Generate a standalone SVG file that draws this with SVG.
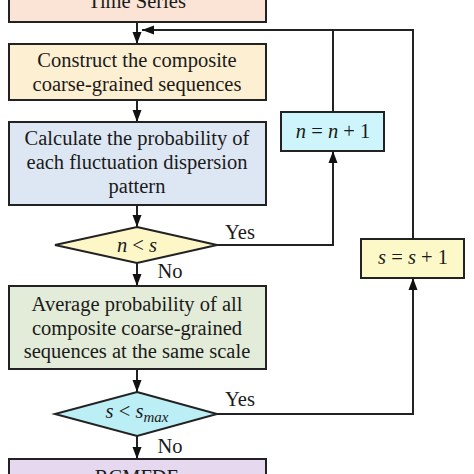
<svg xmlns="http://www.w3.org/2000/svg" width="474" height="474" viewBox="0 0 474 474">
<style>
.box{stroke:#222;stroke-width:2}
.t{font-family:"Liberation Serif","Times New Roman",serif;font-size:20.5px;fill:#1a1a1a;text-anchor:middle}
.m{font-style:italic}
.c{fill:none;stroke:#222;stroke-width:2}
</style>
<defs>
<marker id="ah" viewBox="0 0 12 10" refX="12" refY="5" markerWidth="12" markerHeight="10" markerUnits="userSpaceOnUse" orient="auto">
<path d="M0,0.5 L12,5 L0,9.5 z" fill="#111"/>
</marker>
</defs>
<rect width="474" height="474" fill="#fff"/>
<g id="connectors">
<line class="c" x1="137" y1="22" x2="137" y2="44" marker-end="url(#ah)"/>
<polyline class="c" points="413,239 413,30 142,30" marker-end="url(#ah)"/>
<line class="c" x1="333" y1="112" x2="333" y2="30"/>
<line class="c" x1="137" y1="100" x2="137" y2="122" marker-end="url(#ah)"/>
<line class="c" x1="137" y1="205" x2="137" y2="227" marker-end="url(#ah)"/>
<polyline class="c" points="217,245 333,245 333,151" marker-end="url(#ah)"/>
<line class="c" x1="137" y1="263" x2="137" y2="286" marker-end="url(#ah)"/>
<line class="c" x1="137" y1="369" x2="137" y2="392" marker-end="url(#ah)"/>
<polyline class="c" points="217,414 413,414 413,278" marker-end="url(#ah)"/>
<line class="c" x1="137" y1="436" x2="137" y2="459" marker-end="url(#ah)"/>
<text class="t" x="240" y="239">Yes</text>
<text class="t" x="170" y="278">No</text>
<text class="t" x="240" y="406">Yes</text>
<text class="t" x="170" y="453">No</text>
</g>
<g id="time-series">
<rect class="box" x="9" y="-10" width="257" height="32" fill="#fbe3d6"/>
<text class="t" x="137" y="8">Time Series</text>
</g>
<g id="construct">
<rect class="box" x="9" y="44" width="257" height="56" fill="#fdefd2"/>
<text class="t" x="137" y="67">Construct the composite</text>
<text class="t" x="137" y="90.5">coarse-grained sequences</text>
</g>
<g id="calculate">
<rect class="box" x="9" y="122" width="257" height="83" fill="#dde7f3"/>
<text class="t" x="137" y="145">Calculate the probability of</text>
<text class="t" x="137" y="169">each fluctuation dispersion</text>
<text class="t" x="137" y="193">pattern</text>
</g>
<g id="n-inc">
<rect class="box" x="281" y="112" width="103" height="39" fill="#cdf5fb"/>
<text class="t m" x="333" y="138">n <tspan font-style="normal">= </tspan>n<tspan font-style="normal"> + 1</tspan></text>
</g>
<g id="n-lt-s">
<polygon class="box" points="137,227 217,245 137,263 55,245" fill="#fdf6c6"/>
<text class="t m" x="137" y="252">n <tspan font-style="normal">&lt;</tspan> s</text>
</g>
<g id="s-inc">
<rect class="box" x="361" y="239" width="103" height="39" fill="#fdf8c8"/>
<text class="t m" x="413" y="264">s <tspan font-style="normal">= </tspan>s<tspan font-style="normal"> + 1</tspan></text>
</g>
<g id="average">
<rect class="box" x="9" y="286" width="257" height="83" fill="#e3ecd8"/>
<text class="t" x="137" y="311">Average probability of all</text>
<text class="t" x="137" y="335">composite coarse-grained</text>
<text class="t" x="137" y="358">sequences at the same scale</text>
</g>
<g id="s-lt-smax">
<polygon class="box" points="137,392 217,414 137,436 55,414" fill="#bceef6"/>
<text class="t m" x="137" y="418">s <tspan font-style="normal">&lt;</tspan> s<tspan font-size="15" dy="4">max</tspan></text>
</g>
<g id="rcmfde">
<rect class="box" x="9" y="459" width="257" height="30" fill="#e6d9ef"/>
<text class="t" x="137" y="484">RCMFDE</text>
</g>
</svg>
